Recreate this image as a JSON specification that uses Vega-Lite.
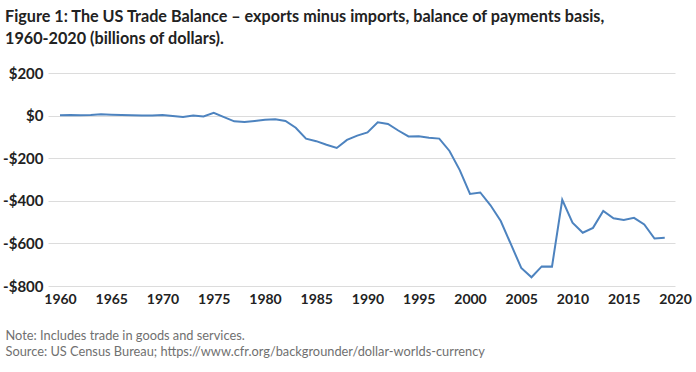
{
  "$schema": "https://vega.github.io/schema/vega-lite/v6.json",
  "width": 627,
  "height": 213,
  "autosize": {"type": "none"},
  "padding": {"left": 48, "top": 73, "right": 21, "bottom": 86},
  "background": "white",
  "title": {
    "text": ["Figure 1: The US Trade Balance – exports minus imports, balance of payments basis,", "1960-2020 (billions of dollars)."],
    "anchor": "start",
    "frame": "group",
    "dx": -43,
    "offset": 19,
    "font": "Lato",
    "fontSize": 16.2,
    "fontWeight": "bold",
    "color": "#222222",
    "lineHeight": 22
  },
  "config": {
    "view": {"stroke": null},
    "font": "Lato"
  },
  "data": {
    "values": [
      {"year": 1960, "balance": 2},
      {"year": 1961, "balance": 3},
      {"year": 1962, "balance": 2},
      {"year": 1963, "balance": 3},
      {"year": 1964, "balance": 6},
      {"year": 1965, "balance": 4},
      {"year": 1966, "balance": 3},
      {"year": 1967, "balance": 2},
      {"year": 1968, "balance": 0},
      {"year": 1969, "balance": 0},
      {"year": 1970, "balance": 3},
      {"year": 1971, "balance": -2},
      {"year": 1972, "balance": -6},
      {"year": 1973, "balance": 1},
      {"year": 1974, "balance": -4},
      {"year": 1975, "balance": 13},
      {"year": 1976, "balance": -7},
      {"year": 1977, "balance": -27},
      {"year": 1978, "balance": -30},
      {"year": 1979, "balance": -25},
      {"year": 1980, "balance": -20},
      {"year": 1981, "balance": -17},
      {"year": 1982, "balance": -25},
      {"year": 1983, "balance": -57},
      {"year": 1984, "balance": -108},
      {"year": 1985, "balance": -120},
      {"year": 1986, "balance": -137},
      {"year": 1987, "balance": -152},
      {"year": 1988, "balance": -114},
      {"year": 1989, "balance": -94},
      {"year": 1990, "balance": -79},
      {"year": 1991, "balance": -31},
      {"year": 1992, "balance": -39},
      {"year": 1993, "balance": -70},
      {"year": 1994, "balance": -98},
      {"year": 1995, "balance": -97},
      {"year": 1996, "balance": -104},
      {"year": 1997, "balance": -108},
      {"year": 1998, "balance": -166},
      {"year": 1999, "balance": -256},
      {"year": 2000, "balance": -368},
      {"year": 2001, "balance": -361},
      {"year": 2002, "balance": -421},
      {"year": 2003, "balance": -495},
      {"year": 2004, "balance": -605},
      {"year": 2005, "balance": -715},
      {"year": 2006, "balance": -759},
      {"year": 2007, "balance": -708},
      {"year": 2008, "balance": -709},
      {"year": 2009, "balance": -395},
      {"year": 2010, "balance": -503},
      {"year": 2011, "balance": -550},
      {"year": 2012, "balance": -527},
      {"year": 2013, "balance": -448},
      {"year": 2014, "balance": -482},
      {"year": 2015, "balance": -490},
      {"year": 2016, "balance": -480},
      {"year": 2017, "balance": -511},
      {"year": 2018, "balance": -577},
      {"year": 2019, "balance": -574}
    ]
  },
  "mark": {"type": "line", "color": "#4d83bf", "strokeWidth": 2},
  "encoding": {
    "x": {
      "field": "year",
      "type": "quantitative",
      "scale": {"domain": [1958.83, 2020], "nice": false, "zero": false},
      "axis": {
        "values": [1960, 1965, 1970, 1975, 1980, 1985, 1990, 1995, 2000, 2005, 2010, 2015, 2020],
        "format": "d",
        "grid": false,
        "domain": false,
        "ticks": false,
        "labelFlush": false,
        "labelOverlap": false,
        "labelPadding": 6,
        "labelFont": "Lato",
        "labelFontSize": 14,
        "labelFontWeight": "bold",
        "labelColor": "#222222",
        "title": ["Note: Includes trade in goods and services.", "Source: US Census Bureau; https://www.cfr.org/backgrounder/dollar-worlds-currency"],
        "titleAnchor": "start",
        "titleAlign": "left",
        "titleX": -43,
        "titleY": 43,
        "titleBaseline": "top",
        "titleFont": "Lato",
        "titleFontSize": 12.8,
        "titleFontWeight": "normal",
        "titleColor": "#707070",
        "titleLineHeight": 16
      }
    },
    "y": {
      "field": "balance",
      "type": "quantitative",
      "scale": {"domain": [-800, 200], "nice": false},
      "axis": {
        "values": [-800, -600, -400, -200, 0, 200],
        "labelExpr": "datum.value < 0 ? '-$' + format(-datum.value, 'd') : '$' + format(datum.value, 'd')",
        "grid": true,
        "gridColor": "#dcdcdc",
        "gridWidth": 1,
        "domain": false,
        "ticks": false,
        "labelPadding": 5,
        "labelFont": "Lato",
        "labelFontSize": 15,
        "labelFontWeight": "bold",
        "labelColor": "#222222",
        "title": null
      }
    }
  }
}
